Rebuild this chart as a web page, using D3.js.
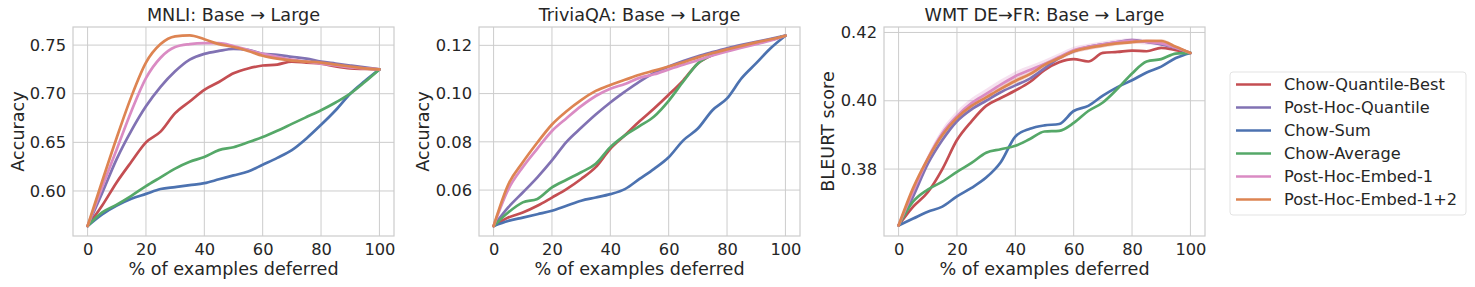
<!DOCTYPE html>
<html lang="en">
<head>
<meta charset="UTF-8">
<title>Deferral curves: Base → Large</title>
<script src="https://d3js.org/d3.v7.min.js"></script>
<style>
  body { margin: 0; background: #fff; }
  svg text { font-family: "DejaVu Sans", sans-serif; fill: #262626; }
  .grid line { stroke: #cccccc; stroke-width: 1; }
  .tick text { font-size: 16.3px; }
  .title { font-size: 17.6px; text-anchor: middle; }
  .label { font-size: 17.6px; text-anchor: middle; }
  .legend text { font-size: 16.2px; }
</style>
</head>
<body>
<div id="chart"></div>
<script>
// percent of examples deferred
var deferred = [0, 5, 10, 15, 20, 25, 30, 35, 40, 45, 50, 55, 60, 65, 70, 75, 80, 85, 90, 95, 100];

var methods = ["Chow-Quantile-Best", "Post-Hoc-Quantile", "Chow-Sum", "Chow-Average", "Post-Hoc-Embed-1", "Post-Hoc-Embed-1+2"];
var colors = ["#c44e52", "#8172b3", "#4c72b0", "#55a868", "#da8bc3", "#dd8452"];

// MNLI accuracy
var mnliChowQuantileBest = [0.564, 0.585, 0.609, 0.630, 0.650, 0.661, 0.680, 0.692, 0.704, 0.712, 0.721, 0.726, 0.729, 0.730, 0.733, 0.732, 0.731, 0.728, 0.726, 0.7255, 0.725];
var mnliPostHocQuantile = [0.564, 0.598, 0.633, 0.662, 0.687, 0.707, 0.723, 0.735, 0.741, 0.744, 0.746, 0.745, 0.741, 0.740, 0.738, 0.736, 0.733, 0.731, 0.729, 0.727, 0.725];
var mnliChowSum = [0.564, 0.576, 0.585, 0.592, 0.597, 0.602, 0.604, 0.606, 0.608, 0.612, 0.616, 0.620, 0.627, 0.634, 0.642, 0.654, 0.668, 0.683, 0.700, 0.713, 0.725];
var mnliChowAverage = [0.564, 0.578, 0.586, 0.595, 0.605, 0.614, 0.623, 0.630, 0.635, 0.642, 0.645, 0.650, 0.6555, 0.662, 0.669, 0.676, 0.683, 0.691, 0.700, 0.712, 0.725];
var mnliEmbed1 = [0.564, 0.604, 0.643, 0.682, 0.716, 0.737, 0.748, 0.751, 0.752, 0.752, 0.749, 0.745, 0.741, 0.738, 0.735, 0.733, 0.731, 0.729, 0.727, 0.726, 0.725];
var mnliEmbed12 = [0.564, 0.610, 0.655, 0.697, 0.732, 0.751, 0.759, 0.760, 0.756, 0.751, 0.748, 0.744, 0.739, 0.736, 0.734, 0.733, 0.732, 0.730, 0.728, 0.726, 0.725];

// TriviaQA accuracy
var tqaChowQuantileBest = [0.0451, 0.0486, 0.0507, 0.0535, 0.0569, 0.0604, 0.0646, 0.0695, 0.0771, 0.0827, 0.0885, 0.0938, 0.0995, 0.1055, 0.1125, 0.1160, 0.1180, 0.1195, 0.1210, 0.1223, 0.124];
var tqaPostHocQuantile = [0.0451, 0.0528, 0.0590, 0.0653, 0.0723, 0.0800, 0.0858, 0.0913, 0.0963, 0.1008, 0.1050, 0.1085, 0.1112, 0.1135, 0.1155, 0.1172, 0.1188, 0.1202, 0.1215, 0.1227, 0.124];
var tqaChowSum = [0.0451, 0.0472, 0.0486, 0.0500, 0.0514, 0.0535, 0.0556, 0.0569, 0.0583, 0.0604, 0.0646, 0.0688, 0.0736, 0.0806, 0.0855, 0.0931, 0.0980, 0.1064, 0.1126, 0.1189, 0.124];
var tqaChowAverage = [0.0451, 0.0507, 0.0549, 0.0563, 0.0611, 0.0643, 0.0674, 0.0709, 0.0778, 0.0827, 0.0865, 0.0905, 0.0970, 0.1050, 0.1125, 0.1160, 0.1180, 0.1195, 0.1210, 0.1223, 0.124];
var tqaEmbed1 = [0.0451, 0.0602, 0.0695, 0.0772, 0.0845, 0.0898, 0.0948, 0.0990, 0.1020, 0.1040, 0.1065, 0.1080, 0.1100, 0.1120, 0.1138, 0.1158, 0.1175, 0.1190, 0.1205, 0.1220, 0.124];
var tqaEmbed12 = [0.0451, 0.0622, 0.0715, 0.0797, 0.0872, 0.0927, 0.0973, 0.1011, 0.1036, 0.1057, 0.1078, 0.1095, 0.1112, 0.1130, 0.1150, 0.1168, 0.1183, 0.1198, 0.1212, 0.1225, 0.124];

// WMT DE→FR BLEURT
var wmtChowQuantileBest = [0.3635, 0.3690, 0.3732, 0.3800, 0.3885, 0.3940, 0.3985, 0.4008, 0.4030, 0.4055, 0.4090, 0.4113, 0.4122, 0.4115, 0.4140, 0.4143, 0.4147, 0.4145, 0.4155, 0.4148, 0.4140];
var wmtPostHocQuantile = [0.3635, 0.3720, 0.3815, 0.3885, 0.3940, 0.3975, 0.4000, 0.4025, 0.4045, 0.4065, 0.4095, 0.4125, 0.4145, 0.4158, 0.4165, 0.4172, 0.4178, 0.4172, 0.4165, 0.4155, 0.4140];
var wmtChowSum = [0.3635, 0.3655, 0.3675, 0.3690, 0.3720, 0.3745, 0.3775, 0.3820, 0.3895, 0.3918, 0.3928, 0.3932, 0.3970, 0.3985, 0.4015, 0.4040, 0.4060, 0.4083, 0.4100, 0.4125, 0.4140];
var wmtChowAverage = [0.3635, 0.3705, 0.3740, 0.3763, 0.3792, 0.3818, 0.3848, 0.3858, 0.3868, 0.3888, 0.3910, 0.3912, 0.3935, 0.3970, 0.3995, 0.4035, 0.4080, 0.4115, 0.4122, 0.4138, 0.4140];
var wmtEmbed1 = [0.3635, 0.3735, 0.3830, 0.3905, 0.3955, 0.3993, 0.4020, 0.4047, 0.4072, 0.4090, 0.4108, 0.4128, 0.4148, 0.4158, 0.4165, 0.4172, 0.4176, 0.4172, 0.4168, 0.4155, 0.4140];
var wmtEmbed12 = [0.3635, 0.3745, 0.3830, 0.3900, 0.3950, 0.3985, 0.4010, 0.4035, 0.4058, 0.4078, 0.4105, 0.4125, 0.4145, 0.4155, 0.4162, 0.4168, 0.4172, 0.4175, 0.4175, 0.4158, 0.4140];
// half-width of the shaded bands on the WMT panel
var wmtEmbed1Band = [0, 0.0008, 0.0012, 0.0014, 0.0015, 0.0015, 0.0015, 0.0015, 0.0014, 0.0013, 0.0012, 0.0011, 0.0010, 0.0009, 0.0009, 0.0008, 0.0008, 0.0008, 0.0007, 0.0005, 0];
var wmtEmbed12Band = [0, 0.0005, 0.0008, 0.0009, 0.0009, 0.0009, 0.0008, 0.0008, 0.0008, 0.0007, 0.0007, 0.0006, 0.0006, 0.0006, 0.0006, 0.0006, 0.0006, 0.0006, 0.0006, 0.0004, 0];

var xTicks = [0, 20, 40, 60, 80, 100];
var mnliTicks = [0.60, 0.65, 0.70, 0.75];
var tqaTicks = [0.06, 0.08, 0.10, 0.12];
var wmtTicks = [0.38, 0.40, 0.42];

var panels = [
  { title: "MNLI: Base → Large", ylabel: "Accuracy", left: 73, ylabelX: 18, yDomain: [0.5537, 0.7686], ticks: mnliTicks, fmt: ".2f",
    series: [mnliChowQuantileBest, mnliPostHocQuantile, mnliChowSum, mnliChowAverage, mnliEmbed1, mnliEmbed12], bands: [] },
  { title: "TriviaQA: Base → Large", ylabel: "Accuracy", left: 479, ylabelX: 423, yDomain: [0.04096, 0.1276], ticks: tqaTicks, fmt: ".2f",
    series: [tqaChowQuantileBest, tqaPostHocQuantile, tqaChowSum, tqaChowAverage, tqaEmbed1, tqaEmbed12], bands: [] },
  { title: "WMT DE→FR: Base → Large", ylabel: "BLEURT score", left: 884, ylabelX: 828, yDomain: [0.3604, 0.4216], ticks: wmtTicks, fmt: ".2f",
    series: [wmtChowQuantileBest, wmtPostHocQuantile, wmtChowSum, wmtChowAverage, wmtEmbed1, wmtEmbed12],
    bands: [{ idx: 4, hw: wmtEmbed1Band }, { idx: 5, hw: wmtEmbed12Band }] }
];

var width = 1475, height = 287;
var plotW = 321, plotTop = 27, plotBottom = 236;

var svg = d3.select("#chart").append("svg")
  .attr("width", width)
  .attr("height", height);

panels.forEach(function (p) {
  var x = d3.scaleLinear().domain([-5, 105]).range([p.left, p.left + plotW]);
  var y = d3.scaleLinear().domain(p.yDomain).range([plotBottom, plotTop]);
  var g = svg.append("g");

  // grid
  g.append("g").attr("class", "grid")
    .selectAll("line").data(xTicks).enter().append("line")
    .attr("x1", function (d) { return x(d); }).attr("x2", function (d) { return x(d); })
    .attr("y1", plotTop).attr("y2", plotBottom);
  g.append("g").attr("class", "grid")
    .selectAll("line").data(p.ticks).enter().append("line")
    .attr("x1", p.left).attr("x2", p.left + plotW)
    .attr("y1", function (d) { return y(d); }).attr("y2", function (d) { return y(d); });

  // frame (spines)
  g.append("rect")
    .attr("x", p.left).attr("y", plotTop)
    .attr("width", plotW).attr("height", plotBottom - plotTop)
    .attr("fill", "none").attr("stroke", "#cccccc").attr("stroke-width", 1.2);

  // bands
  p.bands.forEach(function (b) {
    var vals = p.series[b.idx];
    var area = d3.area()
      .x(function (d, i) { return x(deferred[i]); })
      .y0(function (d, i) { return y(vals[i] - b.hw[i]); })
      .y1(function (d, i) { return y(vals[i] + b.hw[i]); })
      .curve(d3.curveMonotoneX);
    g.append("path").datum(vals)
      .attr("d", area)
      .attr("fill", colors[b.idx]).attr("fill-opacity", 0.25);
  });

  // lines
  var line = d3.line()
    .x(function (d, i) { return x(deferred[i]); })
    .y(function (d) { return y(d); })
    .curve(d3.curveMonotoneX);
  p.series.forEach(function (vals, k) {
    g.append("path").datum(vals)
      .attr("d", line)
      .attr("fill", "none")
      .attr("stroke", colors[k])
      .attr("stroke-width", 2.7)
      .attr("stroke-linejoin", "round")
      .attr("stroke-linecap", "round");
  });

  // axes
  var xAxis = g.append("g")
    .attr("transform", "translate(0," + plotBottom + ")")
    .call(d3.axisBottom(x).tickValues(xTicks).tickSize(0).tickPadding(7));
  xAxis.select(".domain").remove();
  var yAxis = g.append("g")
    .attr("transform", "translate(" + p.left + ",0)")
    .call(d3.axisLeft(y).tickValues(p.ticks).tickFormat(d3.format(p.fmt)).tickSize(0).tickPadding(7));
  yAxis.select(".domain").remove();
  g.selectAll(".tick text").attr("fill", "#262626");

  // title and axis labels
  g.append("text").attr("class", "title")
    .attr("x", p.left + plotW / 2).attr("y", 21)
    .text(p.title);
  g.append("text").attr("class", "label")
    .attr("x", p.left + plotW / 2).attr("y", 275)
    .text("% of examples deferred");
  g.append("text").attr("class", "label")
    .attr("transform", "translate(" + (p.ylabelX + 6) + "," + ((plotTop + plotBottom) / 2) + ") rotate(-90)")
    .text(p.ylabel);
});

// legend
var legend = svg.append("g").attr("class", "legend");
legend.append("rect")
  .attr("x", 1230).attr("y", 72)
  .attr("width", 236).attr("height", 143)
  .attr("rx", 3)
  .attr("fill", "#fff").attr("stroke", "#e3e3e3");
var ly = d3.scalePoint().domain(methods).range([84.5, 199.5]);
methods.forEach(function (m, k) {
  legend.append("line")
    .attr("x1", 1236).attr("x2", 1271)
    .attr("y1", ly(m)).attr("y2", ly(m))
    .attr("stroke", colors[k]).attr("stroke-width", 2.7);
  legend.append("text")
    .attr("x", 1284).attr("y", ly(m))
    .attr("dy", "0.35em")
    .text(m);
});
</script>
</body>
</html>
